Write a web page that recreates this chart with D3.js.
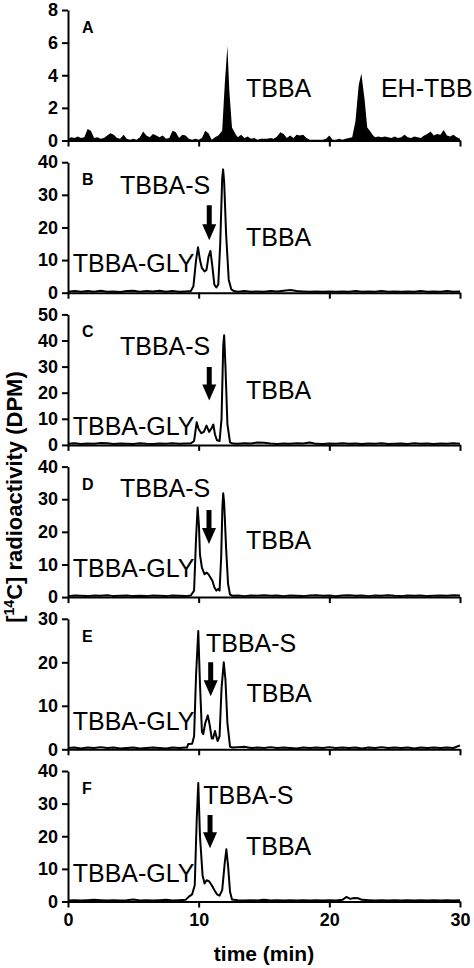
<!DOCTYPE html>
<html>
<head>
<meta charset="utf-8">
<script src="https://cdn.jsdelivr.net/npm/d3@7"></script>
<style>
  html, body { margin: 0; padding: 0; background: #fff; }
  svg { display: block; font-family: "Liberation Sans", Arial, sans-serif; }
  .axis path, .axis line { stroke: #000; stroke-width: 2px; }
  .axis text { font-size: 18px; font-weight: bold; fill: #000; }
  .note { font-size: 25px; fill: #000; }
  .letter { font-size: 16px; font-weight: bold; }
</style>
</head>
<body>
<svg id="chart" width="474" height="968"></svg>
<script>
// panel settings
const panelLetters = ["A", "B", "C", "D", "E", "F"];
const yMax = [8, 40, 50, 40, 30, 40];
const yStep = [2, 10, 10, 10, 10, 10];
const xTicks = [0, 10, 20, 30];

// [time (min), DPM]
const traceA = [
  [0, 0.1], [0.25, 0.2], [0.5, 0.15], [0.75, 0.25], [1, 0.15], [1.25, 0.2], [1.5, 0.7], [1.75, 0.6],
  [2, 0.15], [2.25, 0.2], [2.5, 0.1], [2.75, 0.15], [3, 0.3], [3.25, 0.45], [3.5, 0.35], [3.75, 0.15],
  [4, 0.1], [4.25, 0.35], [4.5, 0.1], [4.75, 0.05], [5, 0.1], [5.25, 0.05], [5.5, 0.2], [5.75, 0.55],
  [6, 0.3], [6.25, 0.2], [6.5, 0.4], [6.75, 0.3], [7, 0.2], [7.25, 0.3], [7.5, 0.1], [7.75, 0.15],
  [8, 0.6], [8.25, 0.5], [8.5, 0.15], [8.75, 0.35], [9, 0.3], [9.25, 0.1], [9.5, 0.05], [9.75, 0.1],
  [10, 0.05], [10.25, 0.15], [10.5, 0.6], [10.75, 0.45], [11, 0.05], [11.25, 0.2], [11.5, 0.3], [11.8, 0.6],
  [12, 3.5], [12.2, 5.8], [12.35, 3.0], [12.55, 0.8], [12.85, 0.35], [13, 0.2], [13.25, 0.35], [13.5, 0.15],
  [13.75, 0.25], [14, 0.1], [14.25, 0.15], [14.5, 0.05], [14.75, 0.1], [15, 0.1], [15.25, 0.1], [15.5, 0.15],
  [15.75, 0.1], [16, 0.25], [16.25, 0.5], [16.5, 0.4], [16.75, 0.15], [17, 0.3], [17.25, 0.15], [17.5, 0.35],
  [17.75, 0.3], [18, 0.35], [18.25, 0.15], [18.5, 0.05], [18.75, 0.05], [19, 0.05], [19.25, 0.05], [19.5, 0.05],
  [19.75, 0.1], [20, 0.3], [20.25, 0.05], [20.5, 0.05], [20.75, 0.1], [21, 0.05], [21.25, 0.1], [21.5, 0.15],
  [21.75, 0.2], [22, 1.2], [22.25, 3.4], [22.45, 4.1], [22.7, 2.5], [22.9, 0.8], [23.1, 0.6], [23.35, 0.3],
  [23.5, 0.2], [23.75, 0.25], [24, 0.2], [24.25, 0.25], [24.5, 0.2], [24.75, 0.15], [25, 0.25], [25.25, 0.15],
  [25.5, 0.2], [25.75, 0.35], [26, 0.2], [26.25, 0.15], [26.5, 0.25], [26.75, 0.2], [27, 0.15], [27.25, 0.3],
  [27.5, 0.4], [27.75, 0.55], [28, 0.3], [28.25, 0.4], [28.5, 0.35], [28.75, 0.65], [29, 0.3], [29.25, 0.25],
  [29.5, 0.35], [29.75, 0.2], [30, 0.1]
];

const traceB = [
  [0, 0.3], [0.5, 0.5], [1, 0.3], [1.5, 0.5], [2, 0.3], [2.5, 0.6], [3, 0.3], [3.5, 0.4], [4, 0.2],
  [4.5, 0.5], [5, 0.6], [5.5, 0.3], [6, 0.5], [6.5, 0.4], [7, 0.6], [7.5, 0.3], [8, 0.5], [8.5, 0.3],
  [9, 0.4], [9.4, 0.5], [9.6, 2], [9.8, 10], [9.95, 13.9], [10.1, 10], [10.25, 7.5], [10.45, 6.5],
  [10.6, 7], [10.75, 11], [10.9, 12.8], [11.05, 8], [11.2, 2.5], [11.35, 1.6], [11.5, 2.5], [11.65, 15],
  [11.8, 35], [11.87, 37.8], [11.95, 34], [12.1, 18], [12.3, 4], [12.5, 1], [12.7, 0.5], [13, 0.3],
  [13.5, 0.5], [14, 0.3], [14.5, 0.4], [15, 0.3], [15.5, 0.5], [16, 0.4], [16.5, 0.6], [17, 0.8],
  [17.5, 0.5], [18, 0.4], [18.5, 0.3], [19, 0.4], [19.5, 0.3], [20, 0.4], [20.5, 0.3], [21, 0.4],
  [21.5, 0.3], [22, 0.5], [22.5, 0.3], [23, 0.4], [23.5, 0.3], [24, 0.5], [24.5, 0.3], [25, 0.4],
  [25.5, 0.3], [26, 0.4], [26.5, 0.3], [27, 0.5], [27.5, 0.3], [28, 0.4], [28.5, 0.3], [29, 0.5],
  [29.5, 0.3], [30, 0.4]
];

const traceC = [
  [0, 0.4], [0.5, 0.6], [1, 0.3], [1.5, 0.5], [2, 0.4], [2.5, 0.7], [3, 0.6], [3.5, 0.3], [4, 0.5],
  [4.5, 0.4], [5, 0.3], [5.5, 0.6], [6, 0.4], [6.5, 0.3], [7, 0.5], [7.5, 0.4], [8, 0.6], [8.5, 0.4],
  [9, 0.5], [9.4, 0.6], [9.65, 1.5], [9.85, 8.7], [10, 6], [10.2, 4.5], [10.4, 5], [10.6, 7.4],
  [10.8, 5], [11, 6.5], [11.12, 7.8], [11.25, 4], [11.4, 1.8], [11.6, 1.5], [11.75, 10], [11.88, 38],
  [11.95, 42], [12.05, 30], [12.2, 8], [12.4, 1], [12.6, 0.5], [13, 0.4], [13.5, 0.6], [14, 0.5],
  [14.5, 0.9], [15, 0.8], [15.5, 0.5], [16, 0.3], [16.5, 0.5], [17, 0.4], [17.5, 0.6], [18, 0.5],
  [18.5, 0.9], [19, 0.4], [19.5, 0.3], [20, 0.5], [20.5, 0.4], [21, 0.6], [21.5, 0.4], [22, 0.5],
  [22.5, 0.3], [23, 0.5], [23.5, 0.4], [24, 0.6], [24.5, 0.3], [25, 0.4], [25.5, 0.5], [26, 0.3],
  [26.5, 0.6], [27, 0.4], [27.5, 0.5], [28, 0.3], [28.5, 0.5], [29, 0.4], [29.5, 0.6], [30, 0.4]
];

const traceD = [
  [0, 0.3], [0.5, 0.5], [1, 0.4], [1.5, 0.3], [2, 0.5], [2.5, 0.4], [3, 0.6], [3.5, 0.3], [4, 0.4],
  [4.5, 0.5], [5, 0.3], [5.5, 0.4], [6, 0.3], [6.5, 0.5], [7, 0.4], [7.5, 0.3], [8, 0.5], [8.5, 0.4],
  [9, 0.3], [9.4, 0.5], [9.65, 2], [9.8, 18], [9.92, 27.5], [10.02, 22], [10.1, 13], [10.25, 9],
  [10.45, 7], [10.6, 7.5], [10.75, 7], [10.9, 6], [11.05, 5], [11.2, 3], [11.35, 2], [11.5, 2.5],
  [11.6, 2], [11.72, 12], [11.82, 28], [11.88, 31.8], [11.95, 29], [12.1, 15], [12.25, 4], [12.4, 0.8],
  [12.6, 0.4], [13, 0.5], [13.5, 0.3], [14, 0.5], [14.5, 0.4], [15, 0.6], [15.5, 0.4], [16, 0.5],
  [16.5, 0.3], [17, 0.5], [17.5, 0.4], [18, 0.3], [18.5, 0.5], [19, 0.6], [19.5, 0.4], [20, 0.5],
  [20.5, 0.3], [21, 0.5], [21.5, 0.6], [22, 0.4], [22.5, 0.5], [23, 0.3], [23.5, 0.5], [24, 0.4],
  [24.5, 0.6], [25, 0.4], [25.5, 0.3], [26, 0.5], [26.5, 0.4], [27, 0.5], [27.5, 0.3], [28, 0.4],
  [28.5, 0.5], [29, 0.4], [29.5, 0.6], [30, 0.5]
];

const traceE = [
  [0, 0.3], [0.5, 0.4], [1, 0.2], [1.5, 0.4], [2, 0.3], [2.5, 0.5], [3, 0.3], [3.5, 0.4], [4, 0.2],
  [4.5, 0.3], [5, 0.4], [5.5, 0.2], [6, 0.3], [6.5, 0.4], [7, 0.3], [7.5, 0.2], [8, 0.4], [8.5, 0.3],
  [9, 0.4], [9.1, 0.4], [9.2, 1.2], [9.5, 1.3], [9.65, 3], [9.8, 17], [9.97, 27.2], [10.1, 15],
  [10.25, 4], [10.35, 3.5], [10.5, 6], [10.7, 7.8], [10.85, 5.5], [11, 2.5], [11.1, 2.5], [11.25, 4.2],
  [11.35, 3], [11.45, 1.9], [11.6, 3], [11.75, 14], [11.92, 20], [12.05, 16], [12.2, 6], [12.4, 0.6],
  [12.6, 0.4], [13, 0.5], [13.5, 0.6], [14, 0.3], [14.5, 0.4], [15, 0.3], [15.5, 0.5], [16, 0.3],
  [16.5, 0.4], [17, 0.3], [17.5, 0.2], [18, 0.4], [18.5, 0.3], [19, 0.4], [19.5, 0.3], [20, 0.5],
  [20.5, 0.3], [21, 0.4], [21.5, 0.3], [22, 0.4], [22.5, 0.2], [23, 0.4], [23.5, 0.3], [24, 0.5],
  [24.5, 0.3], [25, 0.4], [25.5, 0.3], [26, 0.4], [26.5, 0.2], [27, 0.4], [27.5, 0.3], [28, 0.4],
  [28.5, 0.3], [29, 0.4], [29.5, 0.3], [30, 0.9]
];

const traceF = [
  [0, 0.3], [0.5, 0.4], [1, 0.3], [1.5, 0.4], [2, 0.5], [2.5, 0.4], [3, 0.3], [3.5, 0.4], [4, 0.3],
  [4.5, 0.4], [5, 0.6], [5.5, 0.3], [6, 0.4], [6.5, 0.3], [7, 0.4], [7.5, 0.5], [8, 0.3], [8.5, 0.4],
  [9, 0.5], [9.25, 1.5], [9.5, 2.2], [9.7, 5], [9.85, 25], [9.97, 36.3], [10.1, 20], [10.3, 8],
  [10.45, 5.5], [10.6, 6.5], [10.8, 6.2], [11, 5], [11.2, 3.5], [11.4, 2.2], [11.6, 1.8], [11.8, 3.5],
  [12, 12], [12.12, 16], [12.25, 11], [12.4, 3], [12.55, 0.6], [13, 0.4], [13.5, 0.3], [14, 0.4],
  [14.5, 0.3], [15, 0.5], [15.5, 0.3], [16, 0.4], [16.5, 0.3], [17, 0.4], [17.5, 0.3], [18, 0.4],
  [18.5, 0.3], [19, 0.4], [19.5, 0.3], [20, 0.4], [20.5, 0.3], [21, 0.5], [21.3, 1.4], [21.6, 0.8],
  [21.9, 1.1], [22.2, 1], [22.5, 0.5], [23, 0.4], [23.5, 0.3], [24, 0.4], [24.5, 0.3], [25, 0.4],
  [25.5, 0.3], [26, 0.4], [26.5, 0.3], [27, 0.4], [27.5, 0.3], [28, 0.4], [28.5, 0.3], [29, 0.4],
  [29.5, 0.3], [30, 0.4]
];

const traces = [traceA, traceB, traceC, traceD, traceE, traceF];

// peak names, placed in data units [time, DPM] of their panel
const peakNotes = [
  [{ text: "TBBA", t: 13.62, v: 2.66 }, { text: "EH-TBB", t: 23.95, v: 2.66 }],
  [{ text: "TBBA-S", t: 3.98, v: 30.4 }, { text: "TBBA", t: 13.62, v: 14.4 }, { text: "TBBA-GLY", t: 0.36, v: 6.2 }],
  [{ text: "TBBA-S", t: 3.98, v: 34.3 }, { text: "TBBA", t: 13.62, v: 17.7 }, { text: "TBBA-GLY", t: 0.36, v: 3.8 }],
  [{ text: "TBBA-S", t: 3.98, v: 30.6 }, { text: "TBBA", t: 13.62, v: 14.6 }, { text: "TBBA-GLY", t: 0.36, v: 6.1 }],
  [{ text: "TBBA-S", t: 10.56, v: 22.4 }, { text: "TBBA", t: 13.66, v: 10.8 }, { text: "TBBA-GLY", t: 0.36, v: 4.5 }],
  [{ text: "TBBA-S", t: 10.35, v: 30 }, { text: "TBBA", t: 13.62, v: 14.2 }, { text: "TBBA-GLY", t: 0.36, v: 6.1 }]
];

// arrows pointing at TBBA-S: [panel, time, tail DPM, tip DPM]
const arrows = [
  [1, 10.81, 26.8, 16.1],
  [2, 10.81, 29.8, 17.0],
  [3, 10.79, 26.7, 16.3],
  [4, 10.92, 20.0, 12.2],
  [5, 10.87, 26.5, 16.3]
];

const svg = d3.select("#chart");
const left = 68, right = 460;
const panelH = 130.5, panelGap = 152.2, firstTop = 10;

const x = d3.scaleLinear().domain([0, 30]).range([left, right]);

traces.forEach((trace, i) => {
  const top = firstTop + i * panelGap;
  const bottom = top + panelH;
  const y = d3.scaleLinear().domain([0, yMax[i]]).range([bottom, top]);
  const g = svg.append("g");

  if (i === 0) {
    // panel A is drawn as a filled trace
    const area = d3.area().x(d => x(d[0])).y0(y(0)).y1(d => y(d[1]));
    g.append("path").datum(trace).attr("d", area).attr("fill", "#000");
  } else {
    const line = d3.line().x(d => x(d[0])).y(d => y(d[1]));
    g.append("path").datum(trace).attr("d", line)
      .attr("fill", "none").attr("stroke", "#000").attr("stroke-width", 2)
      .attr("stroke-linejoin", "round");
  }

  const ticksY = d3.range(0, yMax[i] + 0.001, yStep[i]);
  g.append("g").attr("class", "axis")
    .attr("transform", `translate(${left},0)`)
    .call(d3.axisLeft(y).tickValues(ticksY).tickSize(6).tickSizeOuter(0).tickPadding(4));

  const xa = g.append("g").attr("class", "axis")
    .attr("transform", `translate(0,${bottom})`)
    .call(d3.axisBottom(x).tickValues(xTicks).tickSize(6).tickSizeOuter(0).tickPadding(6));
  if (i < traces.length - 1) xa.selectAll("text").remove();

  g.append("text").attr("class", "letter")
    .attr("x", left + 14).attr("y", top + 23)
    .text(panelLetters[i]);

  peakNotes[i].forEach(n => {
    g.append("text").attr("class", "note")
      .attr("x", x(n.t)).attr("y", y(n.v))
      .text(n.text);
  });

  arrows.filter(a => a[0] === i).forEach(a => {
    const ax = x(a[1]), y0 = y(a[2]), y1 = y(a[3]);
    const headH = 16, headW = 7, shaftW = 2.5;
    g.append("path")
      .attr("d", `M${ax - shaftW},${y0} L${ax + shaftW},${y0} L${ax + shaftW},${y1 - headH}
        L${ax + headW},${y1 - headH} L${ax},${y1} L${ax - headW},${y1 - headH}
        L${ax - shaftW},${y1 - headH} Z`)
      .attr("fill", "#000");
  });
});

// x axis title
svg.append("text")
  .attr("x", x(15)).attr("y", 961)
  .attr("text-anchor", "middle")
  .style("font-size", "21px").style("font-weight", "bold")
  .text("time (min)");

// y axis title
const yt = svg.append("text")
  .attr("transform", "translate(22,497) rotate(-90)")
  .attr("text-anchor", "middle")
  .style("font-size", "22px").style("font-weight", "bold");
yt.append("tspan").text("[");
yt.append("tspan").attr("dy", -8).style("font-size", "14px").text("14");
yt.append("tspan").attr("dy", 8).text("C] radioactivity (DPM)");
</script>
</body>
</html>
